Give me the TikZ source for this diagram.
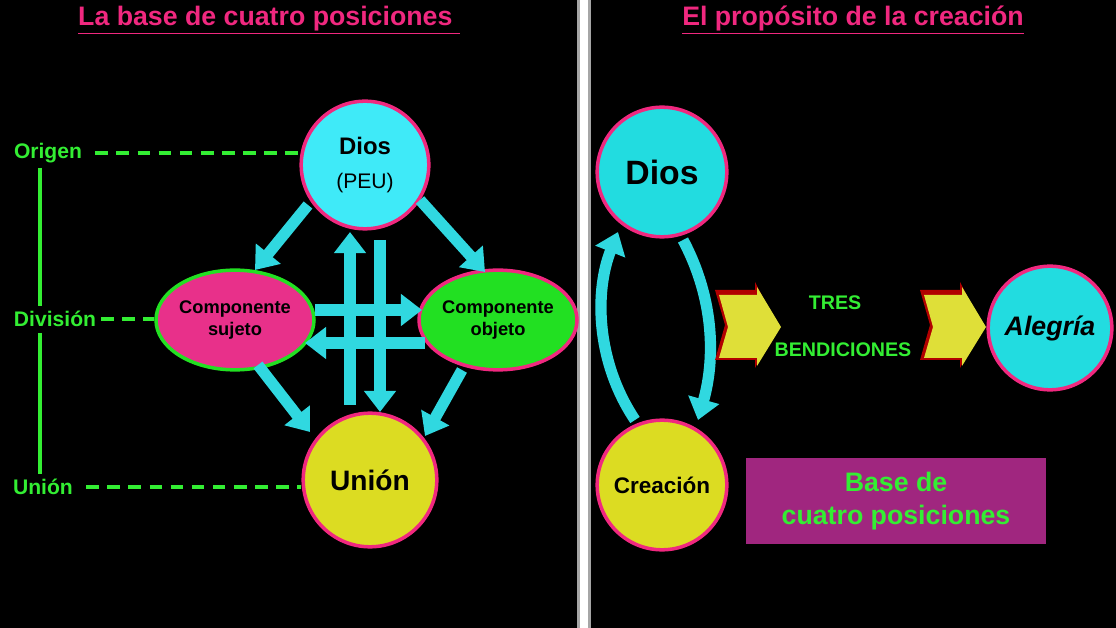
\documentclass[tikz,border=0pt]{standalone}
\usepackage{fontspec}
\setmainfont{Liberation Sans}
\usetikzlibrary{arrows.meta,shapes.geometric}
\definecolor{tpink}{HTML}{F0287F}
\definecolor{tcyan}{HTML}{3FEAF8}
\definecolor{tcyan2}{HTML}{22DCE0}
\definecolor{tyel}{HTML}{DCDC22}
\definecolor{tgreen}{HTML}{22E022}
\definecolor{lgreen}{HTML}{33EE33}
\definecolor{tmag}{HTML}{E8308A}
\definecolor{tpurp}{HTML}{A0267F}
\definecolor{acyan}{HTML}{30D8E0}
\begin{document}
\begin{tikzpicture}[x=0.025cm,y=-0.025cm,
  circ/.style={circle,draw=tpink,line width=2.5pt,inner sep=0pt,font=\bfseries,align=center},
  ell/.style={ellipse,line width=2.5pt,inner sep=0pt,font=\bfseries\fontsize{13}{15}\selectfont,align=center},
  lab/.style={text=lgreen,font=\bfseries\fontsize{15}{16}\selectfont},
  dashl/.style={lgreen,line width=2.5pt,dash pattern=on 9pt off 6pt},
  carr/.style={acyan,line width=8pt,-{Triangle[width=22pt,length=15pt]}},
  ttl/.style={text=tpink,font=\bfseries\fontsize{19}{20}\selectfont}]
\fill[black] (0,0) rectangle (1116,628);
\useasboundingbox (0,0) rectangle (1116,628);
\fill[gray!70] (577,0) rectangle (591,628);
\fill[white] (580,0) rectangle (588,628);
% titles
\node[ttl] (t1) at (269,20) {\underline{La base de cuatro posiciones\ }};
\node[ttl] (t2) at (853,20) {\underline{El propósito de la creación}};
% left
\node[circ,fill=tcyan,minimum size=128*0.709pt,font=\bfseries\fontsize{17}{24}\selectfont] (dios) at (365,165) {Dios\\{\mdseries\fontsize{15}{17}\selectfont (PEU)}};
\node[ell,fill=tmag,draw=tgreen,minimum width=150*0.709pt,minimum height=100*0.709pt] (suj) at (235,320) {Componente\\sujeto};
\node[ell,fill=tgreen,draw=tpink,minimum width=146*0.709pt,minimum height=100*0.709pt] (obj) at (498,320) {Componente\\objeto};
\node[circ,fill=tyel,minimum size=134*0.709pt] (union) at (370,480) {\fontsize{20}{22}\selectfont Unión};
\node[lab] (orig) at (48,153) {Origen};
\node[lab] (div) at (55,319) {División};
\node[lab] (uni) at (43,487) {Unión};
\draw[dashl] (orig.east) ++(6pt,0) -- (orig.east -| dios.west);
\draw[dashl] (div.east) -- (div.east -| suj.west);
\draw[dashl] (uni.east) ++(6pt,0) -- (uni.east -| union.west);
\draw[lgreen,line width=2.5pt] (40,168) -- (40,306);
\draw[lgreen,line width=2.5pt] (40,333) -- (40,474);
\draw[carr] (308,205) -- (255,270);
\draw[carr] (420,200) -- (485,272);
\draw[carr] (258,365) -- (310,432);
\draw[carr] (462,370) -- (425,436);
\draw[carr] (350,405) -- (350,232);
\draw[carr] (380,240) -- (380,412);
\draw[carr] (315,310) -- (422,310);
\draw[carr] (425,343) -- (305,343);
% right
\node[circ,fill=tcyan2,minimum size=130*0.709pt] (d2) at (662,172) {\fontsize{24}{26}\selectfont Dios};
\node[circ,fill=tyel,minimum size=130*0.709pt] (cre) at (662,485) {\fontsize{16}{18}\selectfont Creación};
\node[circ,fill=tcyan2,minimum size=124*0.709pt] (ale) at (1050,328) {\itshape\fontsize{19}{21}\selectfont Alegría};
\draw[carr] (635,420) .. controls (595,360) and (595,290) .. (618,232);
\draw[carr] (683,240) .. controls (715,300) and (715,360) .. (698,420);
\foreach \x in {715,920}{
  \fill[red!70!black] (\x,290) -- (\x+40,290) -- (\x+40,282) -- (\x+62,325) -- (\x+40,368) -- (\x+40,360) -- (\x,360) -- (\x+10,325) -- cycle;
  \fill[tyel!90!white] (\x+4,295) -- (\x+42,295) -- (\x+42,287) -- (\x+66,327) -- (\x+42,366) -- (\x+42,358) -- (\x+4,358) -- (\x+13,327) -- cycle;
}
\node[lab,font=\bfseries\fontsize{14}{15}\selectfont] (tres) at (835,303) {TRES};
\node[lab,font=\bfseries\fontsize{14}{15}\selectfont] (ben) at (843,350) {BENDICIONES};
\node[fill=tpurp,minimum width=300*0.709pt,minimum height=87*0.709pt,inner sep=0pt,text=lgreen,font=\bfseries\fontsize{19}{24}\selectfont,align=center] (base) at (896,501) {Base de\\cuatro posiciones};
\end{tikzpicture}
\end{document}
